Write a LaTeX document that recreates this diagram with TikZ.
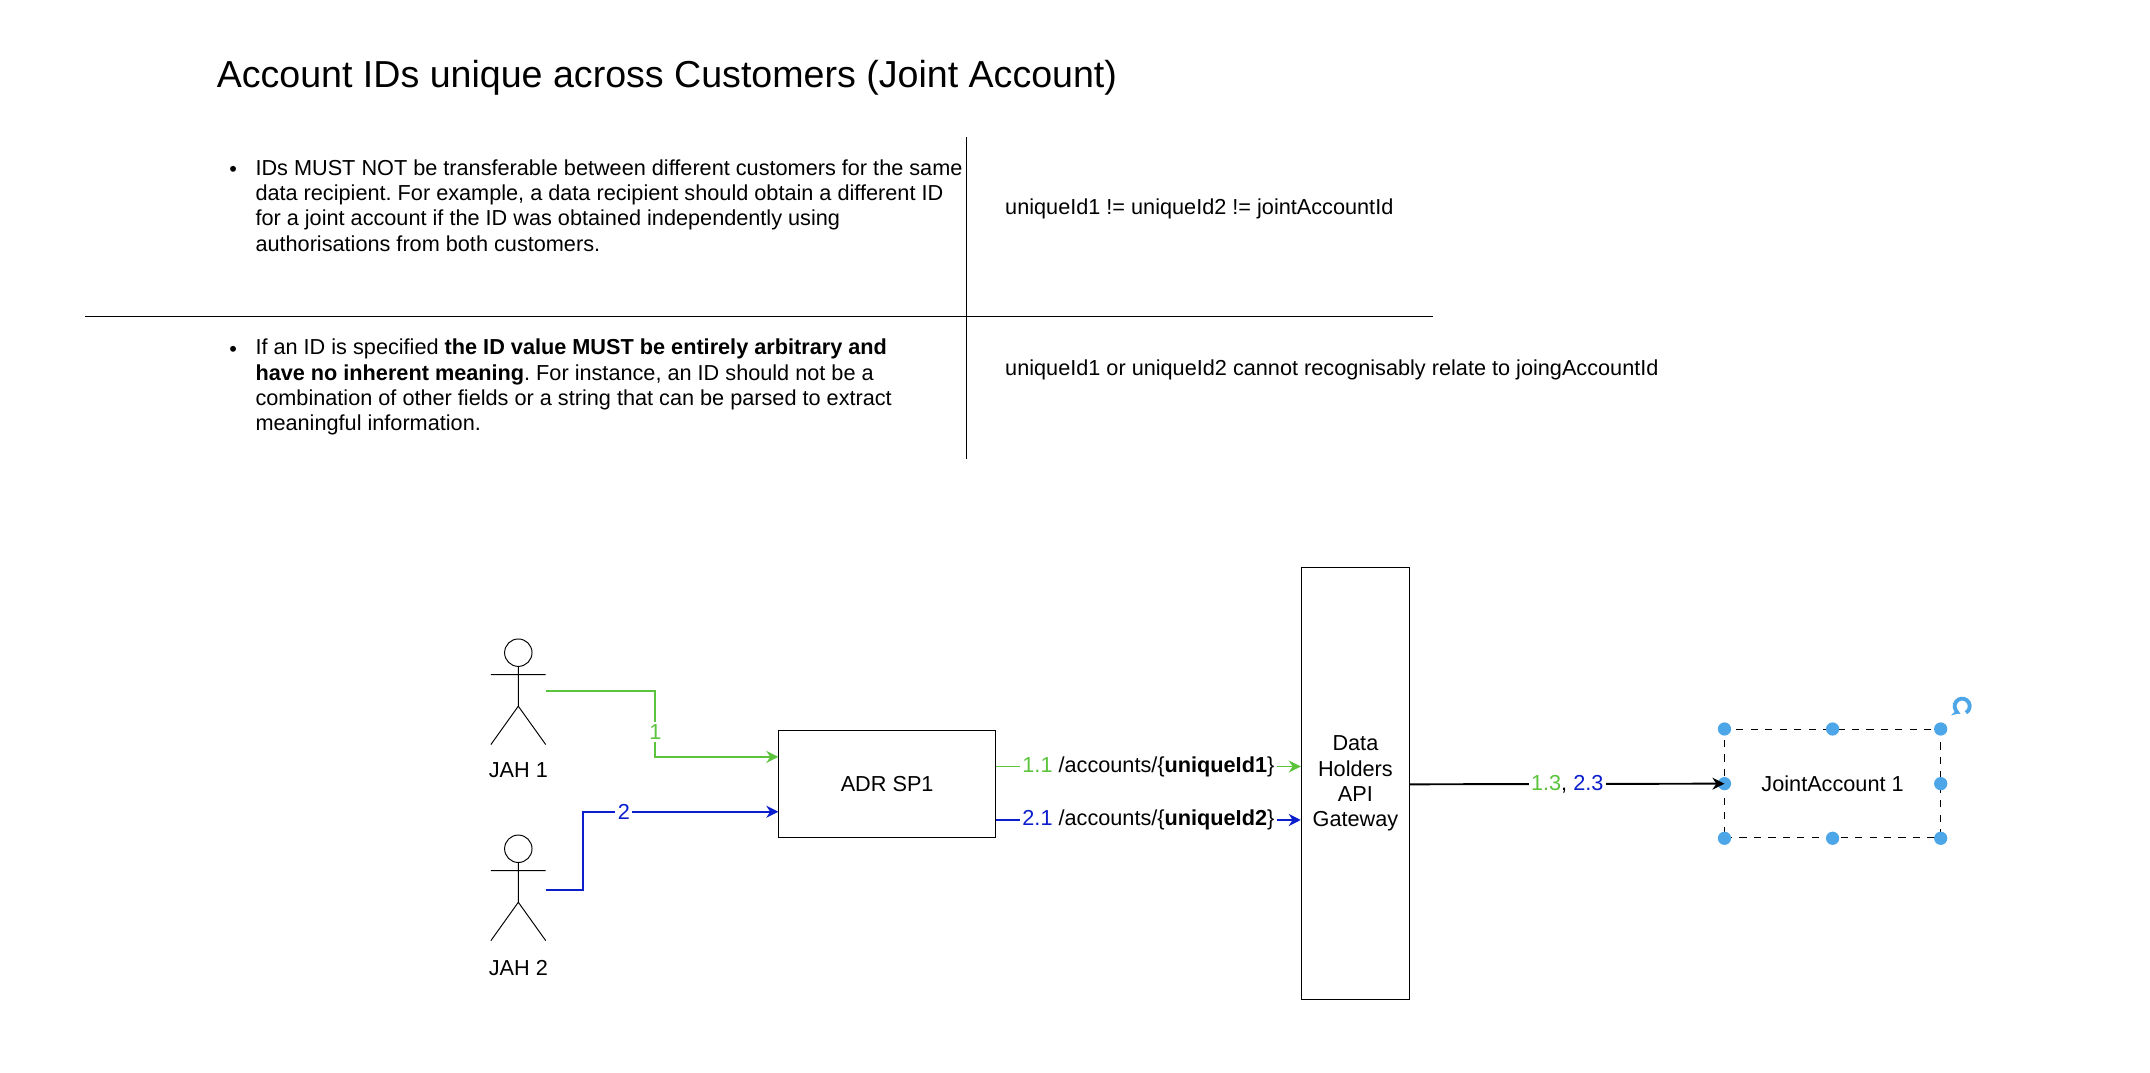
\documentclass[tikz,border=0pt]{standalone}
\usepackage{amssymb}
\usepackage{fontspec}
\setmainfont{Liberation Sans}
\usetikzlibrary{arrows.meta}
\definecolor{gr}{HTML}{5CC43C}
\definecolor{bl}{HTML}{0A1ECC}
\definecolor{hb}{HTML}{4DA6E8}
\frenchspacing
\begin{document}
\begin{tikzpicture}[x=0.02cm,y=-0.02cm,
  every node/.style={font=\fontsize{9}{10.5}\selectfont,inner sep=1pt},
  lab/.style={fill=white,inner sep=1pt},
  para/.style={anchor=north west,align=left,inner sep=0pt},
  arr/.style={-{Stealth[length=5pt,width=5pt]},thick},
  hd/.style={circle,fill=hb,inner sep=0pt,minimum size=5.5pt}]
\useasboundingbox (0,0) rectangle (1568,782);
\node[anchor=west,font=\fontsize{15.6}{18}\selectfont] (title) at (156,57) {Account IDs unique across Customers (Joint Account)};
\coordinate (vt) at (705,100); \coordinate (vb) at (705,335);
\coordinate (hl) at (62,231); \coordinate (hr) at (1045,231);
\draw (vt) -- (vb); \draw (hl) -- (hr);
\node (bu1) at (170,125) {\textbullet};
\node[para] (t1) at (186,116) {IDs MUST NOT be transferable between different customers for the same\\data recipient. For example, a data recipient should obtain a different ID\\for a joint account if the ID was obtained independently using\\authorisations from both customers.};
\node (bu2) at (170,256) {\textbullet};
\node[para] (t2) at (186,247) {If an ID is specified \textbf{the ID value MUST be entirely arbitrary and}\\\textbf{have no inherent meaning}. For instance, an ID should not be a\\combination of other fields or a string that can be parsed to extract\\meaningful information.};
\node[anchor=west] (r1) at (731,152) {uniqueId1 != uniqueId2 != jointAccountId};
\node[anchor=west] (r2) at (731,270) {uniqueId1 or uniqueId2 cannot recognisably relate to joingAccountId};
% actors
\foreach \n/\y in {1/476,2/619}{
 \draw (378,\y) circle (10);
 \draw (378,\y+10) -- (378,\y+39) (358,\y+16) -- (398,\y+16)
       (358,\y+67) -- (378,\y+39) -- (398,\y+67);
}
\node (jah1) at (378,562) {JAH 1};
\node (jah2) at (378,706) {JAH 2};
\coordinate (a1) at (398,504); \coordinate (a2) at (398,649);
\node[draw,minimum width=158*0.02cm,minimum height=78*0.02cm] (adr) at (647,572) {ADR SP1};
\node[draw,minimum width=79*0.02cm,minimum height=315*0.02cm,align=center] (gw) at (988.5,571.5) {Data\\Holders\\API\\Gateway};
\node[draw,dashed,minimum width=157*0.02cm,minimum height=79*0.02cm] (ja) at (1336.5,571.5) {JointAccount 1};
\foreach \a in {north west,north,north east,east,south east,south,south west,west}
  \node[hd] at (ja.\a) {};
\coordinate (rc) at (1431,515);
\draw[hb,line width=1.6pt,-{Stealth[length=3pt,width=4pt]}] ([shift={(60:5.5)}]rc) arc (60:-250:5.5);
\draw[gr,arr] (a1) -- (478,504) -- (478,552) -- (adr.west|-0,552);
\node[lab,text=gr] at (478,534) {1};
\draw[bl,arr] (a2) -- (425,649) -- (425,592) -- (adr.west|-0,592);
\node[lab,text=bl] at (455,592) {2};
\draw[gr,arr] (adr.east|-0,559) -- (gw.west|-0,559) node[midway,lab,text=black] {\textcolor{gr}{1.1} /accounts/\{\textbf{uniqueId1}\}};
\draw[bl,arr] (adr.east|-0,598) -- (gw.west|-0,598) node[midway,lab,text=black] {\textcolor{bl}{2.1} /accounts/\{\textbf{uniqueId2}\}};
\draw[arr] (gw.east|-0,572) -- (ja.west) node[midway,lab] {\textcolor{gr}{1.3}, \textcolor{bl}{2.3}};
\end{tikzpicture}
\end{document}
